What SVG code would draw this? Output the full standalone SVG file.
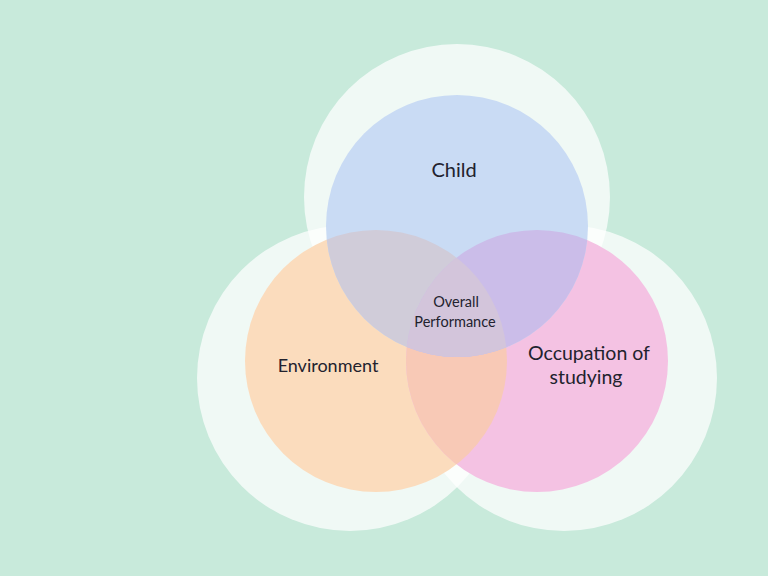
<svg xmlns="http://www.w3.org/2000/svg" width="768" height="576" viewBox="0 0 768 576">
<style>
.halo{fill:#ffffff;fill-opacity:0.72}
.lbl{font-family:"Lato","Liberation Sans",sans-serif;fill:#22222e;text-anchor:middle}
.big{font-size:18px}
.child{font-size:20px}
.occ{font-size:19.5px}
.small{font-size:14.5px}
</style>
<defs>
<clipPath id="cB"><circle cx="457" cy="226" r="131"/></clipPath>
<clipPath id="cO"><circle cx="376" cy="361" r="131"/></clipPath>
<clipPath id="cP"><circle cx="537" cy="361" r="131"/></clipPath>
</defs>
<rect width="768" height="576" fill="#c8eadb"/>
<g id="halos">
<circle class="halo" cx="457" cy="197" r="153"/>
<circle class="halo" cx="350" cy="378" r="153"/>
<circle class="halo" cx="564" cy="378" r="153"/>
</g>
<g id="environment">
<circle cx="376" cy="361" r="131" fill="#fbdcbd"/>
</g>
<g id="occupation">
<circle cx="537" cy="361" r="131" fill="#f4c2e3"/>
</g>
<g id="child">
<circle cx="457" cy="226" r="131" fill="#c9dbf4"/>
</g>
<g id="overlaps">
<circle cx="537" cy="361" r="131" fill="#f8c9b6" clip-path="url(#cO)"/>
<circle cx="376" cy="361" r="131" fill="#d0ccd9" clip-path="url(#cB)"/>
<circle cx="537" cy="361" r="131" fill="#cbbde9" clip-path="url(#cB)"/>
<g clip-path="url(#cB)"><circle cx="537" cy="361" r="131" fill="#d3c5db" clip-path="url(#cO)"/></g>
</g>
<g id="labels">
<text class="lbl child" x="454" y="177">Child</text>
<text class="lbl big" x="328" y="372">Environment</text>
<text class="lbl occ" x="589" y="360">Occupation of</text>
<text class="lbl occ" x="586" y="384">studying</text>
<text class="lbl small" x="456" y="307">Overall</text>
<text class="lbl small" x="455" y="327">Performance</text>
</g>
</svg>
